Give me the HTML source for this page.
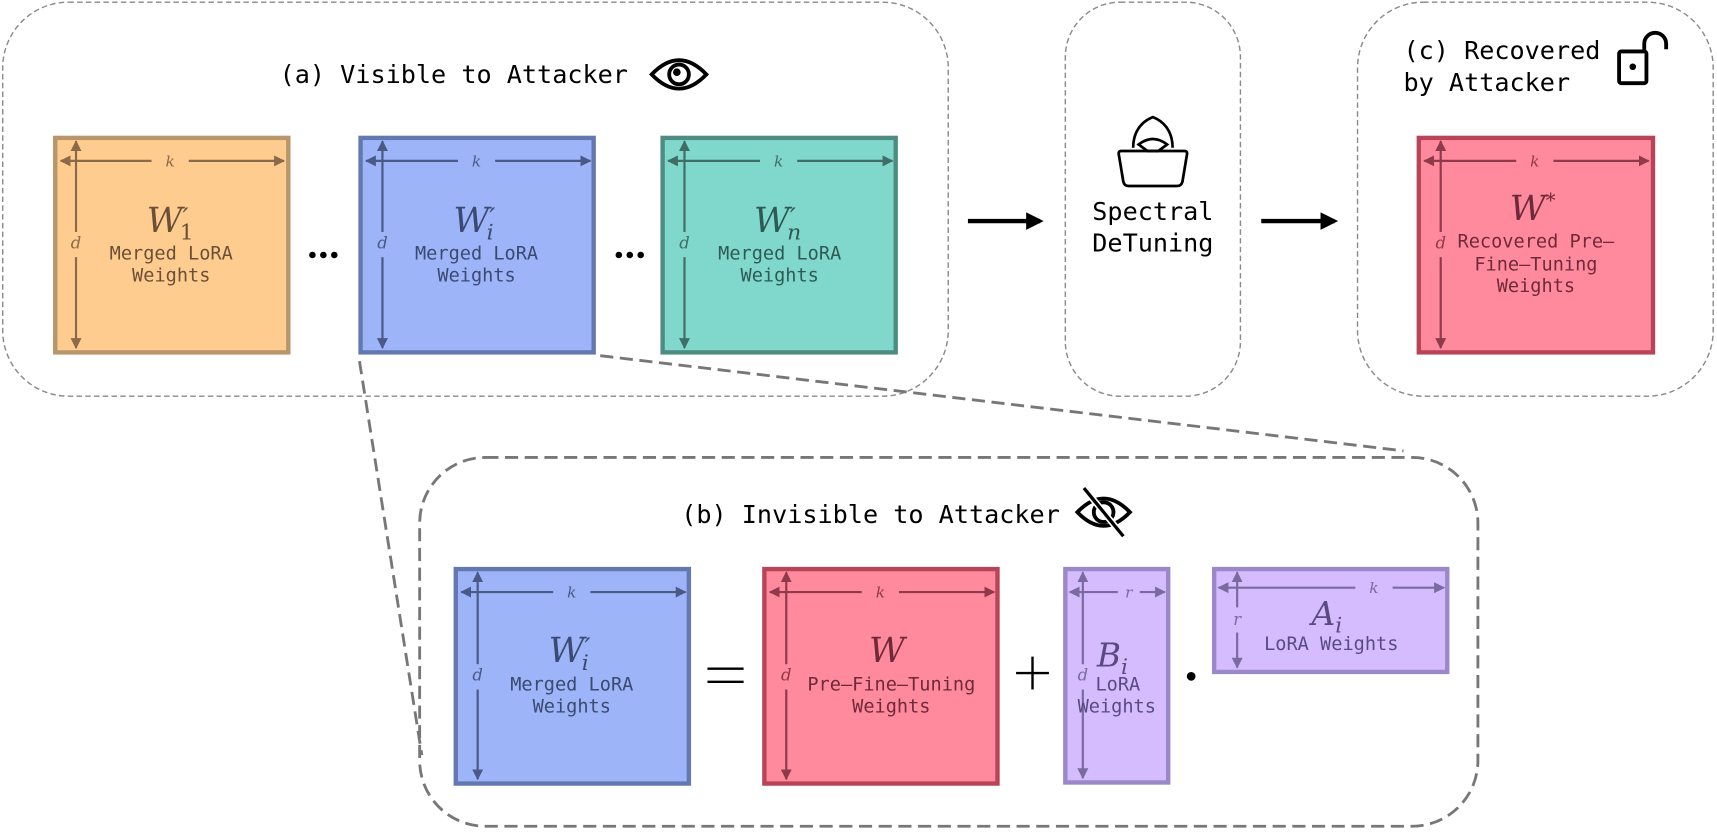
<!DOCTYPE html>
<html><head><meta charset="utf-8"><style>
html,body{margin:0;padding:0;background:#fff;width:1717px;height:835px;overflow:hidden}
svg{display:block}
.mono{font-family:"DejaVu Sans Mono","Liberation Mono",monospace}
.m{font-family:"DejaVu Serif","Liberation Serif",serif;font-style:italic}
</style></head><body>
<svg width="1717" height="835" viewBox="0 0 1568 763" xmlns="http://www.w3.org/2000/svg">
<defs>
<marker id="ao" viewBox="0 0 10 10" refX="9" refY="5" markerWidth="5" markerHeight="5" orient="auto-start-reverse"><path d="M0,0L10,5L0,10z" fill="#8a6a48"/></marker>
<marker id="ab" viewBox="0 0 10 10" refX="9" refY="5" markerWidth="5" markerHeight="5" orient="auto-start-reverse"><path d="M0,0L10,5L0,10z" fill="#4a5a86"/></marker>
<marker id="at" viewBox="0 0 10 10" refX="9" refY="5" markerWidth="5" markerHeight="5" orient="auto-start-reverse"><path d="M0,0L10,5L0,10z" fill="#3e6e66"/></marker>
<marker id="ar" viewBox="0 0 10 10" refX="9" refY="5" markerWidth="5" markerHeight="5" orient="auto-start-reverse"><path d="M0,0L10,5L0,10z" fill="#8e3a4a"/></marker>
<marker id="ap" viewBox="0 0 10 10" refX="9" refY="5" markerWidth="5" markerHeight="5" orient="auto-start-reverse"><path d="M0,0L10,5L0,10z" fill="#7a6a9e"/></marker>
<marker id="ak" viewBox="0 0 10 10" refX="8" refY="5" markerWidth="4" markerHeight="4" orient="auto"><path d="M0,0L10,5L0,10z" fill="#000"/></marker>
</defs>

<g fill="none" stroke="#8a8a8a" stroke-width="1.3" stroke-dasharray="5 3">
<rect x="2" y="2" width="864" height="360" rx="60"/>
<rect x="973" y="2" width="160" height="360" rx="50"/>
<rect x="1240" y="2" width="325" height="360" rx="60"/>
</g>
<g fill="none" stroke="#777" stroke-width="2.6" stroke-dasharray="12 6">
<line x1="328" y1="330" x2="385" y2="690"/>
<line x1="548" y1="325" x2="1282" y2="412"/>
<rect x="383" y="418" width="967" height="337" rx="60"/>
</g>

<text class="mono" x="255" y="76" font-size="23">(a) Visible to Attacker</text>
<g transform="translate(620,68)">
<path d="M-25,0 Q0,-26 25,0 Q0,26 -25,0z" fill="none" stroke="#000" stroke-width="3.5"/>
<circle r="9" fill="none" stroke="#000" stroke-width="3.5"/><circle cx="-2" cy="-2" r="3.5" fill="#000"/>
</g>
<text class="mono" x="622" y="478" font-size="23">(b) Invisible to Attacker</text>
<g transform="translate(1008,468)">
<path d="M-24,0 Q0,-25 24,0 Q0,25 -24,0z" fill="none" stroke="#000" stroke-width="3.5"/>
<circle r="9" fill="none" stroke="#000" stroke-width="3.5"/>
<line x1="-18" y1="-22" x2="18" y2="22" stroke="#fff" stroke-width="6"/>
<line x1="-18" y1="-22" x2="18" y2="22" stroke="#000" stroke-width="3"/>
</g>
<text class="mono" x="1282" y="54" font-size="23">(c) Recovered</text>
<text class="mono" x="1282" y="83" font-size="23">by Attacker</text>
<g fill="none" stroke="#000" stroke-width="3.5">
<rect x="1479" y="47" width="25" height="29" rx="2"/>
<path d="M1502,47 V40 a10,10 0 0 1 20,0 V45"/>
</g>
<circle cx="1491.5" cy="61" r="3" fill="#000"/>

<g fill="none" stroke="#000" stroke-width="2.5">
<path d="M1035,135 C1035,118 1045,110 1053,107 C1061,110 1071,118 1071,135"/>
<path d="M1040,132 Q1053,122 1066,132 L1058,138 L1048,138z"/>
<path d="M1024,138 H1082 Q1085,138 1084,142 L1080,166 Q1079,170 1075,170 H1031 Q1027,170 1026,166 L1022,142 Q1021,138 1024,138z"/>
</g>
<text class="mono" x="1053" y="201" font-size="23" text-anchor="middle">Spectral</text>
<text class="mono" x="1053" y="230" font-size="23" text-anchor="middle">DeTuning</text>

<line x1="884" y1="202" x2="950" y2="202" stroke="#000" stroke-width="4" marker-end="url(#ak)"/>
<line x1="1152" y1="202" x2="1219" y2="202" stroke="#000" stroke-width="4" marker-end="url(#ak)"/>

<g fill="#000"><circle cx="285" cy="233" r="3"/><circle cx="295" cy="233" r="3"/><circle cx="305" cy="233" r="3"/>
<circle cx="565" cy="233" r="3"/><circle cx="575" cy="233" r="3"/><circle cx="585" cy="233" r="3"/></g>

<!-- orange -->
<rect x="50" y="126" width="213" height="196" fill="#ffcc8f" stroke="#b8956a" stroke-width="4"/>
<g stroke="#8a6a48" stroke-width="2" fill="none">
<line x1="138" y1="147" x2="55" y2="147" marker-end="url(#ao)"/><line x1="172" y1="147" x2="259" y2="147" marker-end="url(#ao)"/>
<line x1="69" y1="212" x2="69" y2="129" marker-end="url(#ao)"/><line x1="69" y1="235" x2="69" y2="318" marker-end="url(#ao)"/>
</g>
<g fill="#8a6a48"><text class="m" x="155" y="152" font-size="14" text-anchor="middle">k</text><text class="m" x="69" y="227" font-size="15" text-anchor="middle">d</text></g>
<text class="m" x="155" y="212" font-size="32" text-anchor="middle" fill="#6a5038">W<tspan font-size="24" dy="-5">′</tspan><tspan font-size="20" dy="12" dx="-8" font-style="normal">1</tspan></text>
<g class="mono" font-size="17" fill="#6a5038" text-anchor="middle"><text x="156" y="237">Merged LoRA</text><text x="156" y="257">Weights</text></g>

<!-- blue top -->
<rect x="329" y="126" width="213" height="196" fill="#9db4f8" stroke="#6478b0" stroke-width="4"/>
<g stroke="#4a5a86" stroke-width="2" fill="none">
<line x1="418" y1="147" x2="334" y2="147" marker-end="url(#ab)"/><line x1="452" y1="147" x2="539" y2="147" marker-end="url(#ab)"/>
<line x1="349" y1="212" x2="349" y2="129" marker-end="url(#ab)"/><line x1="349" y1="235" x2="349" y2="318" marker-end="url(#ab)"/>
</g>
<g fill="#4a5a86"><text class="m" x="435" y="152" font-size="14" text-anchor="middle">k</text><text class="m" x="349" y="227" font-size="15" text-anchor="middle">d</text></g>
<text class="m" x="433" y="212" font-size="32" text-anchor="middle" fill="#3a4a70">W<tspan font-size="24" dy="-5">′</tspan><tspan font-size="20" dy="12" dx="-8">i</tspan></text>
<g class="mono" font-size="17" fill="#3a4a70" text-anchor="middle"><text x="435" y="237">Merged LoRA</text><text x="435" y="257">Weights</text></g>

<!-- teal -->
<rect x="605" y="126" width="213" height="196" fill="#80d8cc" stroke="#4e8c82" stroke-width="4"/>
<g stroke="#3e6e66" stroke-width="2" fill="none">
<line x1="694" y1="147" x2="610" y2="147" marker-end="url(#at)"/><line x1="728" y1="147" x2="815" y2="147" marker-end="url(#at)"/>
<line x1="625" y1="212" x2="625" y2="129" marker-end="url(#at)"/><line x1="625" y1="235" x2="625" y2="318" marker-end="url(#at)"/>
</g>
<g fill="#3e6e66"><text class="m" x="711" y="152" font-size="14" text-anchor="middle">k</text><text class="m" x="625" y="227" font-size="15" text-anchor="middle">d</text></g>
<text class="m" x="710" y="212" font-size="32" text-anchor="middle" fill="#2e5a54">W<tspan font-size="24" dy="-5">′</tspan><tspan font-size="20" dy="12" dx="-8">n</tspan></text>
<g class="mono" font-size="17" fill="#2e5a54" text-anchor="middle"><text x="712" y="237">Merged LoRA</text><text x="712" y="257">Weights</text></g>

<!-- red top -->
<rect x="1296" y="126" width="214" height="196" fill="#ff8a9e" stroke="#b84458" stroke-width="4"/>
<g stroke="#8e3a4a" stroke-width="2" fill="none">
<line x1="1385" y1="147" x2="1301" y2="147" marker-end="url(#ar)"/><line x1="1419" y1="147" x2="1506" y2="147" marker-end="url(#ar)"/>
<line x1="1316" y1="212" x2="1316" y2="129" marker-end="url(#ar)"/><line x1="1316" y1="235" x2="1316" y2="318" marker-end="url(#ar)"/>
</g>
<g fill="#8e3a4a"><text class="m" x="1402" y="152" font-size="14" text-anchor="middle">k</text><text class="m" x="1316" y="227" font-size="15" text-anchor="middle">d</text></g>
<text class="m" x="1400" y="201" font-size="32" text-anchor="middle" fill="#6e2a38">W<tspan font-size="18" dy="-12" font-style="normal">*</tspan></text>
<g class="mono" font-size="17" fill="#6e2a38" text-anchor="middle"><text x="1403" y="226">Recovered Pre–</text><text x="1403" y="247">Fine–Tuning</text><text x="1403" y="267">Weights</text></g>

<!-- bottom blue -->
<rect x="416" y="520" width="213" height="196" fill="#9db4f8" stroke="#6478b0" stroke-width="4"/>
<g stroke="#4a5a86" stroke-width="2" fill="none">
<line x1="505" y1="541" x2="421" y2="541" marker-end="url(#ab)"/><line x1="539" y1="541" x2="626" y2="541" marker-end="url(#ab)"/>
<line x1="436" y1="607" x2="436" y2="523" marker-end="url(#ab)"/><line x1="436" y1="630" x2="436" y2="712" marker-end="url(#ab)"/>
</g>
<g fill="#4a5a86"><text class="m" x="522" y="546" font-size="14" text-anchor="middle">k</text><text class="m" x="436" y="622" font-size="15" text-anchor="middle">d</text></g>
<text class="m" x="520" y="605" font-size="32" text-anchor="middle" fill="#3a4a70">W<tspan font-size="24" dy="-5">′</tspan><tspan font-size="20" dy="12" dx="-8">i</tspan></text>
<g class="mono" font-size="17" fill="#3a4a70" text-anchor="middle"><text x="522" y="631">Merged LoRA</text><text x="522" y="651">Weights</text></g>

<g stroke="#000" stroke-width="2.2"><line x1="646" y1="611" x2="679" y2="611"/><line x1="646" y1="623" x2="679" y2="623"/>
<line x1="928" y1="615" x2="958" y2="615"/><line x1="943" y1="600" x2="943" y2="630"/></g>
<circle cx="1088" cy="618" r="4" fill="#000"/>

<!-- bottom red -->
<rect x="698" y="520" width="213" height="196" fill="#ff8a9e" stroke="#b84458" stroke-width="4"/>
<g stroke="#8e3a4a" stroke-width="2" fill="none">
<line x1="787" y1="541" x2="703" y2="541" marker-end="url(#ar)"/><line x1="821" y1="541" x2="908" y2="541" marker-end="url(#ar)"/>
<line x1="718" y1="607" x2="718" y2="523" marker-end="url(#ar)"/><line x1="718" y1="630" x2="718" y2="712" marker-end="url(#ar)"/>
</g>
<g fill="#8e3a4a"><text class="m" x="804" y="546" font-size="14" text-anchor="middle">k</text><text class="m" x="718" y="622" font-size="15" text-anchor="middle">d</text></g>
<text class="m" x="810" y="605" font-size="32" text-anchor="middle" fill="#6e2a38">W</text>
<g class="mono" font-size="17" fill="#6e2a38" text-anchor="middle"><text x="814" y="631">Pre–Fine–Tuning</text><text x="814" y="651">Weights</text></g>

<!-- B -->
<rect x="973" y="520" width="94" height="195" fill="#d4bcff" stroke="#9a88c8" stroke-width="4"/>
<g stroke="#7a6a9e" stroke-width="2" fill="none">
<line x1="1021" y1="541" x2="977" y2="541" marker-end="url(#ap)"/><line x1="1041" y1="541" x2="1064" y2="541" marker-end="url(#ap)"/>
<line x1="989" y1="607" x2="989" y2="523" marker-end="url(#ap)"/><line x1="989" y1="630" x2="989" y2="711" marker-end="url(#ap)"/>
</g>
<g fill="#7a6a9e"><text class="m" x="1031" y="546" font-size="14" text-anchor="middle">r</text><text class="m" x="989" y="622" font-size="15" text-anchor="middle">d</text></g>
<text class="m" x="1016" y="609" font-size="30" text-anchor="middle" fill="#5a4a80">B<tspan font-size="20" dy="7">i</tspan></text>
<g class="mono" font-size="17" fill="#5a4a80" text-anchor="middle"><text x="1021" y="631">LoRA</text><text x="1020" y="651">Weights</text></g>

<!-- A -->
<rect x="1109" y="520" width="213" height="94" fill="#d4bcff" stroke="#9a88c8" stroke-width="4"/>
<g stroke="#7a6a9e" stroke-width="2" fill="none">
<line x1="1238" y1="537" x2="1113" y2="537" marker-end="url(#ap)"/><line x1="1272" y1="537" x2="1319" y2="537" marker-end="url(#ap)"/>
<line x1="1130" y1="555" x2="1130" y2="523" marker-end="url(#ap)"/><line x1="1130" y1="578" x2="1130" y2="610" marker-end="url(#ap)"/>
</g>
<g fill="#7a6a9e"><text class="m" x="1255" y="542" font-size="14" text-anchor="middle">k</text><text class="m" x="1130" y="571" font-size="15" text-anchor="middle">r</text></g>
<text class="m" x="1212" y="571" font-size="30" text-anchor="middle" fill="#5a4a80">A<tspan font-size="20" dy="7">i</tspan></text>
<text class="mono" x="1216" y="594" font-size="17" fill="#5a4a80" text-anchor="middle">LoRA Weights</text>
</svg>
</body></html>
